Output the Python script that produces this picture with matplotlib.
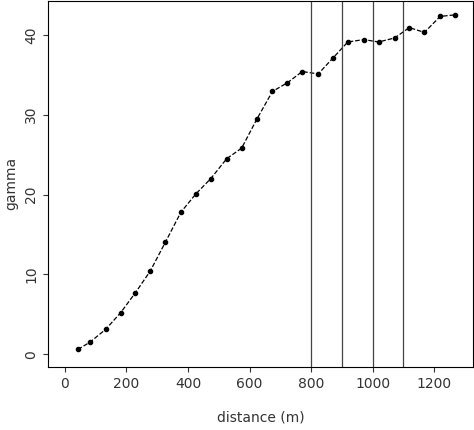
import matplotlib
matplotlib.use("Agg")
import matplotlib.pyplot as plt

distance = [42, 81, 132, 181, 229, 277, 326, 377, 426, 474, 526, 574, 623, 674,
            723, 771, 823, 871, 919, 971, 1019, 1071, 1119, 1168, 1219, 1268]
gamma = [0.6, 1.5, 3.1, 5.2, 7.7, 10.4, 14.0, 17.8, 20.1, 22.0, 24.5, 25.8, 29.4, 32.9,
         34.0, 35.4, 35.1, 37.1, 39.1, 39.4, 39.1, 39.6, 40.9, 40.3, 42.3, 42.5]
vlines = [800, 900, 1000, 1100]

fig = plt.figure(figsize=(4.74, 4.30), dpi=100)
ax = fig.add_axes([48/474, 63/430, 1 - 48/474 - 0.002, 1 - 63/430 - 0.002])
ax.plot(distance, gamma, '--', color='black', lw=0.9, marker='o', ms=3)
for v in vlines:
    ax.axvline(v, color='#444444', lw=0.9)
ax.set_xlim(-55, 1326)
ax.set_ylim(-1.6, 44.25)
ax.set_xticks(range(0, 1201, 200))
ax.set_yticks(range(0, 41, 10))
ax.tick_params(axis='y', labelrotation=90)
for lab in ax.get_yticklabels():
    lab.set_va('center')
ax.tick_params(labelsize=10, colors='#333333')
ax.set_xlabel("distance (m)", fontsize=10, color='#333333', labelpad=14)
ax.set_ylabel("gamma", fontsize=10, color='#333333', labelpad=4)
fig.savefig("out.png", dpi=100)
